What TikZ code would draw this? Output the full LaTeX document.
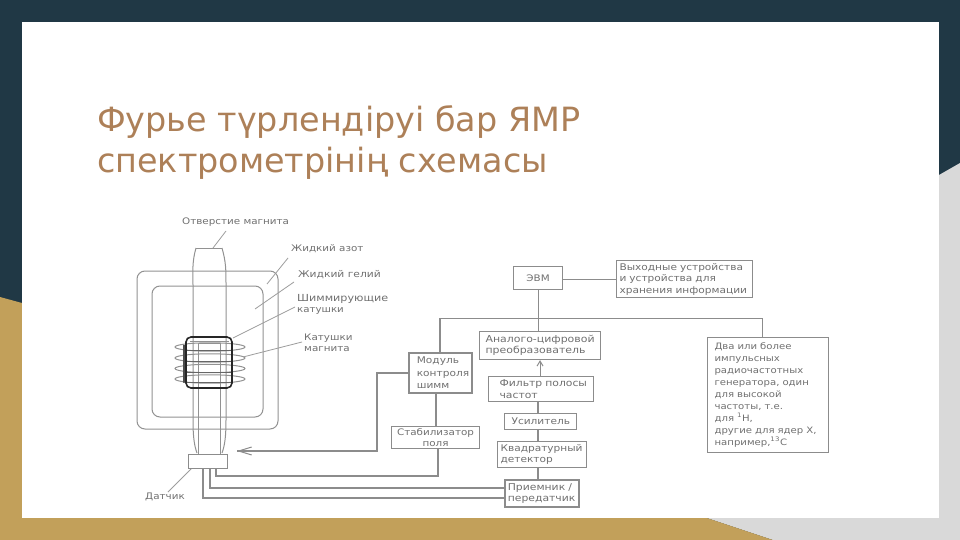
\documentclass[tikz,border=0pt]{standalone}
\usepackage{fontspec}
\setmainfont{DejaVu Sans}
\newfontfamily\dfont[FakeStretch=1.15]{DejaVu Sans}
\usetikzlibrary{arrows.meta,calc}
\definecolor{navy}{HTML}{203845}
\definecolor{gold}{HTML}{C2A05A}
\definecolor{pale}{HTML}{D9D9D9}
\definecolor{titlec}{HTML}{AD8058}
\definecolor{ink}{HTML}{707070}
\definecolor{wire}{HTML}{8C8C8C}
\tikzset{
  box/.style={draw=wire,line width=1.1pt,fill=white,inner sep=0pt,anchor=north west,text=ink,font=\dfont\fontsize{9}{11.5}\selectfont,align=left},
  lab/.style={inner sep=0pt,anchor=west,text=ink,font=\dfont\fontsize{9}{11}\selectfont,align=left},
  wirel/.style={draw=wire,line width=1pt},
  thick wire/.style={draw=wire,line width=1.7pt},
  lead/.style={draw=wire!85,line width=.8pt},
  magnet/.style={draw=wire!95,line width=1pt},
}
\newcommand{\boxat}[7][]{\node[box,#1,minimum width=#4pt,minimum height=#5pt,text width=#4pt-2*#6pt] (#2) at (#3) {#7};}
\begin{document}
\begin{tikzpicture}[x=1pt,y=-1pt]
\useasboundingbox (0,0) rectangle (960,540);
% slide background
\fill[navy] (0,0) rectangle (960,540);
\fill[pale] (960,163) -- (939,175) -- (939,518) -- (707,518) -- (773,540) -- (960,540) -- cycle;
\fill[gold] (0,297) -- (22,303) -- (22,518) -- (707,518) -- (773,540) -- (0,540) -- cycle;
\fill[white] (22,22) rectangle (939,518);
\node[inner sep=0pt,anchor=north west,text=titlec,font=\fontsize{33.4}{41}\selectfont,align=left] (title) at (97,105.5) {Фурье түрлендіруі бар ЯМР\\спектрометрінің схемасы};
% magnet
\draw[magnet,rounded corners=8pt] (137,271) rectangle (278,429);
\draw[magnet,rounded corners=8pt] (152,286) rectangle (263,417);
\draw[magnet] (196,248) .. controls (192,262) and (193,270) .. (193,285) -- (193,420) .. controls (193,435) and (194,445) .. (197,453);
\draw[magnet] (222,248) .. controls (226,262) and (226,270) .. (226,285) -- (226,420) .. controls (226,435) and (225,445) .. (222,453);
\draw[magnet] (196,248) -- (222,248);
\draw[magnet] (198,343) rectangle (220,461);
\draw[magnet] (190,341) -- (229,341);
\foreach \yy in {347,358,368.5,379}{
  \draw[magnet] (210,\yy) ellipse (35 and 4.2);
  \draw[line width=.9pt,draw=black!60] (183,\yy+3.5) -- (233,\yy+3.5);
}
\draw[line width=1.4pt,draw=black!70] (184,345) -- (184,382);
\draw[line width=1.6pt,draw=black!85,rounded corners=5pt] (186,337) rectangle (232,388);
% magnet labels
\node[lab] (bore) at (182,222) {Отверстие магнита};
\node[lab] (nitro) at (291,249) {Жидкий азот};
\node[lab,font=\dfont\fontsize{9.3}{11}\selectfont] (helium) at (298,275) {Жидкий гелий};
\node[lab,font=\dfont\fontsize{9.7}{11}\selectfont] (shim) at (297,304.5) {Шиммирующие\\\fontsize{8.9}{11}\selectfont катушки};
\node[lab] (coils) at (304,342.5) {Катушки\\магнита};
\node[lab] (probe) at (145,497) {Датчик};
\coordinate (bL) at (213,248); \coordinate (bT) at (226,231);
\coordinate (nL) at (267,284); \coordinate (nT) at (288,258);
\coordinate (hL) at (255,309); \coordinate (hT) at (294,282);
\coordinate (sL) at (233,338); \coordinate (sT) at (295,307);
\coordinate (cL) at (243,357); \coordinate (cT) at (302,342);
\coordinate (pL) at (192,468); \coordinate (pT) at (168,492);
\draw[lead] (bL) -- (bT);
\draw[lead] (nL) -- (nT);
\draw[lead] (hL) -- (hT);
\draw[lead] (sL) -- (sT);
\draw[lead] (cL) -- (cT);
\draw[lead] (pL) -- (pT);
% connector junctions
\coordinate (jM) at (440,318);
\coordinate (jG) at (762,318);
\coordinate (jE) at (538,318);
\coordinate (jS) at (436,400);
\coordinate (jA) at (377,373);
\coordinate (jB) at (377,451);
\coordinate (tip) at (237,451);
\coordinate (p1) at (216,476);
\coordinate (p2) at (210,488);
\coordinate (p3) at (203,498);
\coordinate (s1) at (438,476);
% boxes
\boxat[align=center]{comp}{513,266}{49}{23}{0}{ЭВМ}
\boxat{out}{616,260}{136}{37}{3}{\fontsize{9.2}{11.5}\selectfont \mbox{Выходные устройства}\\и устройства для\\\mbox{хранения информации}}
\boxat{adc}{479,331}{121}{28}{6}{\fontsize{9.5}{12}\selectfont \mbox{Аналого-цифровой}\\\mbox{преобразователь}}
\boxat{filt}{488,376}{105}{25}{11}{\fontsize{9.4}{10.5}\selectfont \mbox{Фильтр полосы}\\частот}
\boxat{amp}{504,413}{72}{16}{7}{\fontsize{9.2}{11}\selectfont Усилитель}
\boxat{quad}{497,441}{89}{26}{3}{\fontsize{9.2}{11}\selectfont \mbox{Квадратурный}\\детектор}
\boxat[thick wire]{trx}{504,479}{74}{27}{3}{\fontsize{9.4}{11}\selectfont \mbox{Приемник /}\\\mbox{передатчик}}
\boxat[thick wire]{shimc}{408,352}{63}{40}{8}{\fontsize{9.2}{13}\selectfont Модуль\\\mbox{контроля}\\шимм}
\boxat[align=center]{stab}{391,426}{88}{22}{1}{\fontsize{9}{10.5}\selectfont Стабилизатор\\поля}
\boxat{gen}{707,337}{121}{115}{7}{\fontsize{8.8}{12}\selectfont Два или более\\импульсных\\радиочастотных\\генератора, один\\для высокой\\частоты, т.е.\\для \textsuperscript{1}H,\\другие для ядер X,\\например,\textsuperscript{13}C}
\node[draw=wire,line width=1pt,fill=white,anchor=north west,minimum width=39pt,minimum height=14pt,inner sep=0pt] (sens) at (188,454) {};
% connectors
\draw[wirel] (comp.east |- out.west) -- (out.west);
\draw[wirel] (comp.south -| jE) -- (adc.north -| jE);
\draw[wirel] (jM) -- (jG);
\draw[thick wire] (jM) -- (shimc.north -| jM);
\draw[wirel] (jG) -- (gen.north -| jG);
\draw[wirel,-{Straight Barb[length=5pt,width=6pt]}] (filt.north -| adc.south) -- (adc.south);
\draw[thick wire] (filt.south -| jE) -- (amp.north -| jE);
\draw[thick wire] (amp.south -| jE) -- (quad.north -| jE);
\draw[thick wire] (quad.south -| jE) -- (trx.north -| jE);
\draw[thick wire] (shimc.south -| jS) -- (stab.north -| jS);
\draw[wirel,line width=1.4pt] (shimc.west |- jA) -- (jA) -- (jB) -- (tip);
\draw[wirel,-{Straight Barb[length=13pt,width=8pt]}] (jB) -- (tip);
\draw[thick wire] (stab.south -| s1) -- (s1) -- (p1) -- (sens.south -| p1);
\draw[thick wire] (trx.west |- p2) -- (p2) -- (sens.south -| p2);
\draw[thick wire] (trx.west |- p3) -- (p3) -- (sens.south -| p3);
\end{tikzpicture}
\end{document}
